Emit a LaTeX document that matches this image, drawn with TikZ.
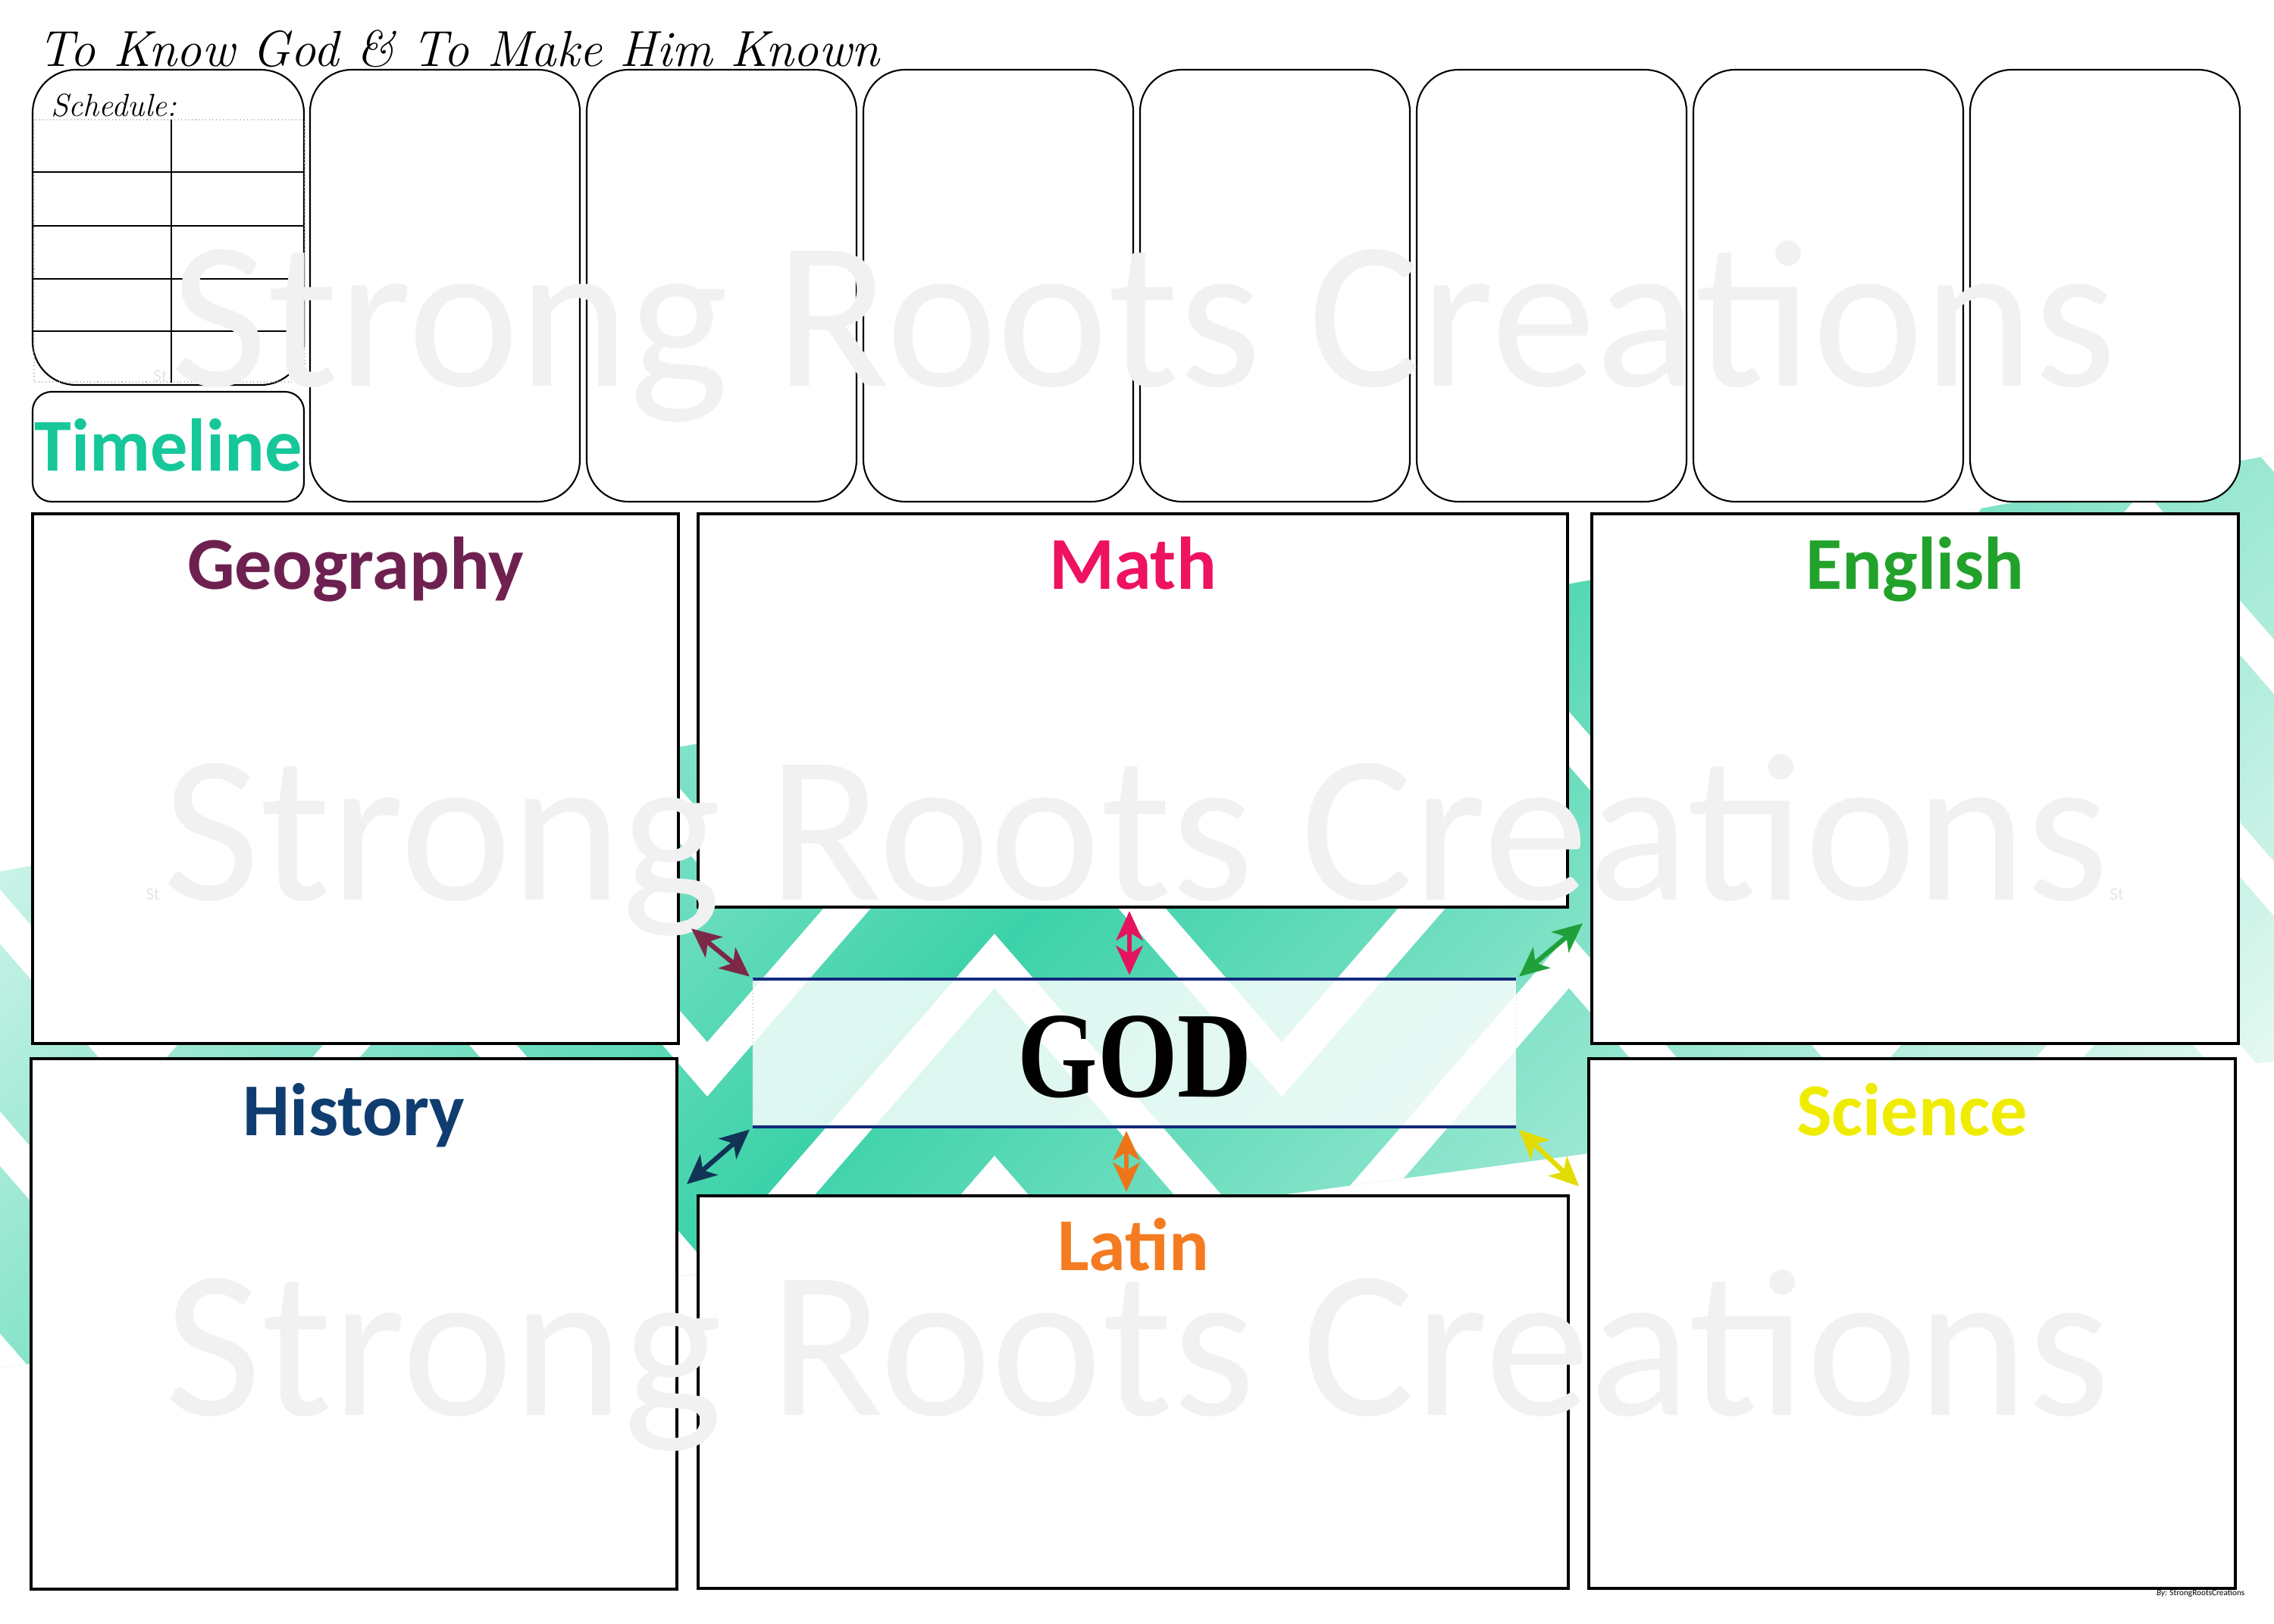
\documentclass[tikz,border=0pt]{standalone}
\usepackage{fontspec}
\usepackage{graphicx}
\usetikzlibrary{arrows.meta}
\newfontfamily\calibri{Carlito}
\newfontfamily\godfont{Liberation Serif}
\definecolor{chevteal}{HTML}{3CD2A9}
\definecolor{chevpale}{HTML}{F2FCF9}
\definecolor{chevfade}{HTML}{E2F8F1}
\definecolor{tlteal}{HTML}{16C79A}
\definecolor{geocol}{HTML}{6E2150}
\definecolor{mathcol}{HTML}{EE1260}
\definecolor{engcol}{HTML}{22A22B}
\definecolor{histcol}{HTML}{0F3D70}
\definecolor{scicol}{HTML}{F0EC00}
\definecolor{latcol}{HTML}{F47B20}
\definecolor{godline}{HTML}{12297A}
\definecolor{wmcol}{HTML}{F1F1F1}
\definecolor{geoarr}{HTML}{7D2846}
\definecolor{matharr}{HTML}{E5145C}
\definecolor{engarr}{HTML}{20A03A}
\definecolor{histarr}{HTML}{123256}
\definecolor{latarr}{HTML}{EE7418}
\definecolor{sciarr}{HTML}{E2DC00}

\begin{document}
\begin{tikzpicture}[x=1cm, y=-1cm,
    daybox/.style={draw, line width=0.6pt, fill=white, rounded corners=5.5mm, minimum width=3.56cm, minimum height=5.70cm, inner sep=0pt, outer sep=0pt},
    subjbox/.style={draw, line width=0.9pt, fill=white, inner sep=0pt, outer sep=0pt},
    subjlabel/.style={anchor=base, inner sep=0pt, font=\calibri\bfseries\fontsize{28}{30}\selectfont},
    wmark/.style={anchor=base west, text=wmcol, inner sep=0pt, font=\calibri\fontsize{79}{80}\selectfont},
    link/.style={line width=1.8pt, {Stealth[length=11pt,width=10pt,inset=3pt]}-{Stealth[length=11pt,width=10pt,inset=3pt]}, shorten <=1.5pt, shorten >=1.5pt},
    stripe/.style={white, line width=4.7mm, line join=miter}]

    \fill[white] (0,0) rectangle (30,21.43);
    \useasboundingbox (0,0) rectangle (30,21.43);

    % chevron band behind the boxes
    \begin{scope}
        \clip (0,11.5) -- (30,6.0) -- (30,14.0) -- (0,18.05) -- cycle;
        \shade[top color=chevpale, bottom color=chevfade, shading angle=45, middle color=chevteal] (0,0) rectangle (30,21.43);
        \foreach \j in {-5,...,3} {
            \pgfmathsetmacro\py{12.68+2.93*\j}
            \pgfmathsetmacro\vy{\py+4.36}
            \draw[stripe] (-2.04,\py) -- (1.75,\vy) -- (5.54,\py) -- (9.33,\vy) -- (13.12,\py) -- (16.91,\vy) -- (20.70,\py) -- (24.49,\vy) -- (28.28,\py) -- (32.07,\vy);
        }
    \end{scope}

    % top row
    \node[daybox, rounded corners=5.7mm, minimum width=3.58cm, minimum height=4.16cm] (sched) at (2.22,3.00) {};
    \node[daybox, rounded corners=2.5mm, minimum width=3.58cm, minimum height=1.45cm] (tline) at (2.22,5.895) {};
    \foreach \i in {0,...,6}
        \node[daybox] (day\i) at ({5.87+3.65*\i},3.77) {};

    \draw[gray!60, densely dotted, line width=0.3pt] (0.45,1.58) rectangle (4.02,5.04);
    \draw[line width=0.4pt] (2.26,1.58) -- (2.26,5.05);
    \foreach \y in {2.27,2.98,3.68,4.37}
        \draw[line width=0.4pt] (0.43,\y) -- (4.01,\y);
    \node[anchor=base west, inner sep=0pt, font=\itshape\fontsize{12}{14}\selectfont] (schedtext) at (0.67,1.54) {Schedule:};
    \node[subjlabel, text=tlteal] (tltext) at (2.22,6.215) {Timeline};

    % subjects
    \node[subjbox, minimum width=8.52cm, minimum height=6.99cm] (geo) at (4.69,10.275) {};
    \node[subjbox, minimum width=11.47cm, minimum height=5.19cm] (math) at (14.945,9.375) {};
    \node[subjbox, minimum width=8.53cm, minimum height=6.99cm] (eng) at (25.265,10.275) {};
    \node[subjbox, minimum width=8.52cm, minimum height=7.00cm] (hist) at (4.67,17.47) {};
    \node[subjbox, minimum width=11.48cm, minimum height=5.18cm] (latin) at (14.95,18.37) {};
    \node[subjbox, minimum width=8.53cm, minimum height=6.99cm] (sci) at (25.225,17.465) {};

    \node[subjlabel, text=geocol] (geotext) at ([yshift=-1cm]geo.north) {Geography};
    \node[subjlabel, text=mathcol] (mathtext) at ([yshift=-1cm]math.north) {Math};
    \node[subjlabel, text=engcol] (engtext) at ([yshift=-1cm]eng.north) {English};
    \node[subjlabel, text=histcol] (histtext) at ([yshift=-1.01cm]hist.north) {History};
    \node[subjlabel, text=latcol] (lattext) at ([yshift=-0.98cm]latin.north) {Latin};
    \node[subjlabel, text=scicol] (scitext) at ([yshift=-1.01cm]sci.north) {Science};

    % centre
    \node[fill=white, fill opacity=0.82, minimum width=10.07cm, minimum height=1.95cm, inner sep=0pt, outer sep=0pt] (god) at (14.965,13.895) {};
    \draw[godline, line width=1pt] (god.north west) -- (god.north east);
    \draw[godline, line width=1pt] (god.south west) -- (god.south east);
    \draw[gray!40, densely dotted, line width=0.3pt] (god.north west) -- (god.south west) (god.north east) -- (god.south east);
    \node[anchor=base, inner sep=0pt, font=\godfont\bfseries\fontsize{46}{48}\selectfont] (godtext) at (14.97,14.47) {\scalebox{0.84}[1]{GOD}};

    \node[anchor=base west, inner sep=0pt, font=\itshape\fontsize{19}{22}\selectfont] (title) at (0.50,0.88) {To Know God \& To Make Him Known};

    % watermark
    \node[wmark] (wm1) at (2.25,5.10) {Strong Roots Creations};
    \node[wmark] (wm2) at (2.15,11.87) {Strong Roots Creations};
    \node[wmark] (wm3) at (2.17,18.67) {Strong Roots Creations};
    \node[anchor=base west, text=gray!20, inner sep=0pt, font=\calibri\fontsize{6.5}{7}\selectfont] (st1) at (2.02,5.04) {St};
    \node[anchor=base west, text=gray!20, inner sep=0pt, font=\calibri\fontsize{6.5}{7}\selectfont] (st2) at (1.92,11.87) {St};
    \node[anchor=base west, text=gray!20, inner sep=0pt, font=\calibri\fontsize{6.5}{7}\selectfont] (st3) at (27.83,11.87) {St};

    % arrows to GOD
    \coordinate (geotail) at (9.08,12.22);
    \coordinate (engtail) at (20.92,12.15);
    \coordinate (histtail) at (9.02,15.66);
    \coordinate (scitail) at (20.87,15.69);
    \coordinate (mathx) at (14.90,0);
    \coordinate (latx) at (14.86,0);
    \draw[link, color=geoarr] (geotail) -- (god.north west);
    \draw[link, color=engarr] (engtail) -- (god.north east);
    \draw[link, color=histarr] (histtail) -- (god.south west);
    \draw[link, color=sciarr] (scitail) -- (god.south east);
    \draw[link, color=matharr] (mathx |- math.south) -- (mathx |- god.north);
    \draw[link, color=latarr] (latx |- god.south) -- (latx |- latin.north);

    \node[anchor=base east, inner sep=0pt, font=\calibri\fontsize{3.2}{4}\selectfont] (credit) at (29.62,21.05) {{\itshape By:} StrongRootsCreations};
\end{tikzpicture}
\end{document}
